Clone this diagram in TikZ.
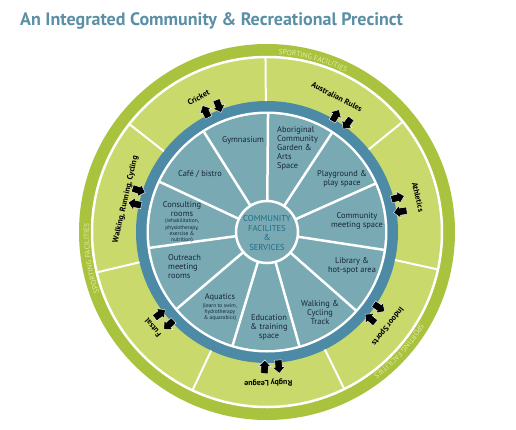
\documentclass[tikz,border=0pt]{standalone}
\usepackage{fontspec}
\setmainfont{PT Sans}
\usetikzlibrary{decorations.text}
\definecolor{outergreen}{HTML}{A9C33E}
\definecolor{lightgreen}{HTML}{C9D96C}
\definecolor{ringblue}{HTML}{4C8AA6}
\definecolor{segteal}{HTML}{79AAB3}
\definecolor{titleblue}{HTML}{5A8FA6}
\definecolor{centertext}{HTML}{1F6B86}
\definecolor{segtext}{HTML}{16263A}
\definecolor{sftext}{HTML}{E2EBA8}
\begin{document}
\begin{tikzpicture}[x=1pt,y=1pt,
  titlestyle/.style={font=\bfseries\fontsize{18}{20}\selectfont, text=titleblue, inner sep=0},
  sport/.style={font=\bfseries\fontsize{8}{9}\selectfont, text=black, inner sep=0},
  seg/.style={font=\fontsize{8.4}{9}\selectfont, text=segtext, align=center, inner sep=0},
  segsmall/.style={font=\fontsize{5.4}{6.3}\selectfont, text=segtext, align=center, inner sep=0},
  hubtext/.style={font=\fontsize{8.6}{9.6}\selectfont, text=centertext, align=center, inner sep=0},
  sfarc/.style={decorate, decoration={text along path, text={|\fontsize{7.4}{7.4}\selectfont|SPORTING FACILITIES}, text align=center, text color=sftext}},
  outarrow/.pic={\fill[black, draw=white, line width=0.4] (-6.5,-3.6) -- (0.5,-3.6) -- (0.5,-6.3) -- (7,0) -- (0.5,6.3) -- (0.5,3.6) -- (-6.5,3.6) -- cycle;}
]
\useasboundingbox (-267,-197) rectangle (249,232);
\fill[white] (-267,-197) rectangle (249,232);

\node[titlestyle, anchor=west] (title) at (-247,211) {An Integrated Community \& Recreational Precinct};

% rings
\fill[outergreen] (0,0) circle (188);
\fill[lightgreen] (0,0) circle (175);
\draw[white, line width=2.5] (0,0) circle (175);
\fill[ringblue] (0,0) circle (131);
\fill[white] (0,0) circle (120.5);
\fill[segteal] (0,0) circle (118);

% sport dividers
\foreach \k in {0,...,6}
  \draw[white, line width=2] ({90.5-\k*51.4286}:131) -- ({90.5-\k*51.4286}:175);
% inner dividers
\foreach \k in {0,...,10}
  \draw[white, line width=2.5] ({89.5-\k*32.7273}:30) -- ({89.5-\k*32.7273}:119);

% hub
\node[circle, fill=segteal, draw=white, line width=2.5, minimum size=62, inner sep=0] (hub) at (0,0) {};
\node[hubtext] (hublabel) at (0,-1) {COMMUNITY\\FACILITES\\\&\\SERVICES};

% inner segment labels
\node[seg] (gym) at (-24,92) {Gymnasium};
\node[seg, anchor=west, align=left] (abor) at (10,84) {Aboriginal\\Community\\Garden \&\\Arts\\Space};
\node[seg] (play) at (75,53) {Playground \&\\play space};
\node[seg] (meet) at (90,11) {Community\\meeting space};
\node[seg] (lib) at (85,-34) {Library \&\\hot-spot area};
\node[seg] (walktrack) at (53,-81) {Walking \&\\Cycling\\Track};
\node[seg] (edu) at (2,-95) {Education\\\& training\\space};
\node[seg] (aqua) at (-47,-65) {Aquatics};
\node[segsmall] (aquasmall) at (-47,-80) {(learn to swim,\\hydrotherapy\\\& aquarobics)};
\node[seg, anchor=west, align=left] (outreach) at (-99,-35) {Outreach\\meeting\\rooms};
\node[seg] (consult) at (-85,23) {Consulting\\rooms};
\node[segsmall] (consultsmall) at (-85,1) {(rehabilitation,\\physiotherapy,\\exercise \&\\nutrition)};
\node[seg] (cafe) at (-67,58) {Café / bistro};

% sport labels
\node[sport, rotate=27] (cricket) at (117:151) {Cricket};
\node[sport, rotate=-27.4] (aus) at (62.6:152) {Australian Rules};
\node[sport, rotate=-77] (ath) at (13:155) {Athletics};
\node[sport, rotate=-128] (indoor) at (-38:153) {Indoor Sports};
\node[sport, rotate=-179.5] (rugby) at (-89.5:151) {Rugby League};
\node[sport, rotate=-230] (futsal) at (-140:149) {Futsal};
\node[sport, rotate=77] (walk) at (167:145) {Walking, Running, Cycling};

% SPORTING FACILITIES arcs
\path[sfarc] (100:178) arc[start angle=100, end angle=50, radius=178];
\path[sfarc] (215:178) arc[start angle=215, end angle=162, radius=178];
\path[sfarc] (-15:178) arc[start angle=-15, end angle=-69, radius=178];

% arrow pairs
\foreach \p in {114,56.5,11.7,-37,-88,-139.6,165} {
  \pic[rotate=\p+3] at ({\p+3}:135) {outarrow};
  \pic[rotate=\p-3+180] at ({\p-3}:135) {outarrow};
}
\end{tikzpicture}
\end{document}
